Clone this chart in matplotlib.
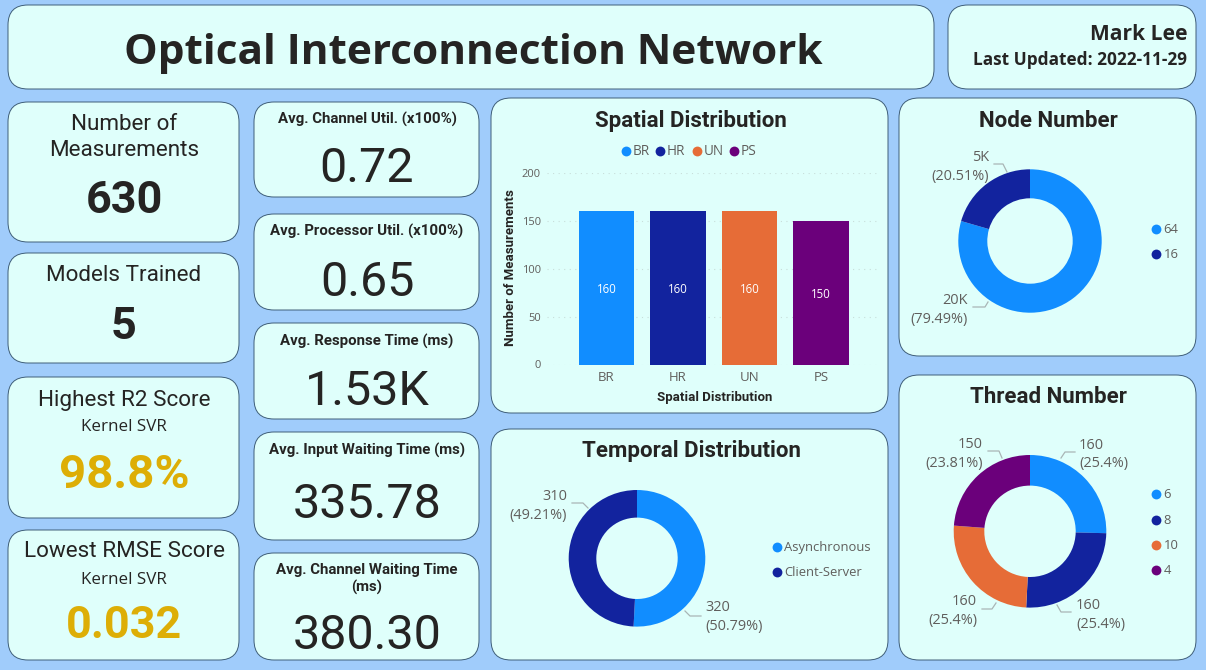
import matplotlib
matplotlib.use("Agg")
import matplotlib.pyplot as plt
from matplotlib.patches import FancyBboxPatch

W, H = 1206, 670

# Data
spatial_names = ["BR", "HR", "UN", "PS"]
spatial_counts = [160, 160, 160, 150]
temporal_names = ["Asynchronous", "Client-Server"]
temporal_counts = [320, 310]
temporal_labels = ["320\n(50.79%)", "310\n(49.21%)"]
node_names = ["64", "16"]
node_shares = [79.49, 20.51]
node_labels = ["20K\n(79.49%)", "5K\n(20.51%)"]
thread_names = ["6", "8", "10", "4"]
thread_counts = [160, 160, 160, 150]
thread_labels = ["160\n(25.4%)", "160\n(25.4%)", "160\n(25.4%)", "150\n(23.81%)"]
y_ticks = [0, 50, 100, 150, 200]

# Colours
BG = "#A0CCFB"
CARD = "#DFFFFB"
EDGE = "#3F5E78"
DARK = "#252423"
GREY = "#605E5C"
GOLD = "#DDAE06"
LEADER = "#A9B5B5"
PALETTE = ["#118DFF", "#12239E", "#E66C37", "#6B007B"]

DIN = "Roboto"
SEGOE = "Open Sans"

fig = plt.figure(figsize=(W / 100, H / 100), dpi=100, facecolor=BG)

# full-figure axes working in pixels, y going down
bg = fig.add_axes([0, 0, 1, 1])
bg.set_xlim(0, W)
bg.set_ylim(H, 0)
bg.axis("off")


def card(x0, y0, x1, y1, r=20):
    bg.add_patch(FancyBboxPatch((x0 + r, y0 + r), x1 - x0 - 2 * r, y1 - y0 - 2 * r,
                                boxstyle=f"round,pad={r},rounding_size={r}",
                                fc=CARD, ec=EDGE, lw=0.7))


def txt(x, y, s, px, color=DARK, weight="normal", family=DIN, **kw):
    # px is the font size in pixels, the small shift puts glyphs on the visual centre
    kw.setdefault("ha", "center")
    kw.setdefault("va", "center")
    if kw.get("rotation") is None:
        y = y + 0.07 * px
    bg.text(x, y, s, fontsize=px * 0.72, color=color, fontweight=weight, family=family, **kw)


def inset(x0, y0, x1, y1):
    ax = fig.add_axes([x0 / W, 1 - y1 / H, (x1 - x0) / W, (y1 - y0) / H])
    ax.patch.set_alpha(0)
    return ax


def donut(cx, cy, r, inner, values):
    ax = inset(cx - r, cy - r, cx + r, cy + r)
    ax.pie(values, colors=PALETTE[:len(values)], startangle=90, counterclock=False,
           radius=1, wedgeprops={"width": 1 - inner / r, "linewidth": 0})
    ax.set_xlim(-1, 1)
    ax.set_ylim(-1, 1)
    ax.set_aspect("auto")


def leader(points):
    bg.plot([p[0] for p in points], [p[1] for p in points], color=LEADER, lw=0.9)


def slice_label(x, y, s, ha):
    txt(x, y, s, 14.5, color=GREY, family=SEGOE, ha=ha, multialignment=ha, linespacing=1.3)


def legend(x, ys, names, colors):
    for y, name, c in zip(ys, names, colors):
        bg.scatter([x], [y], s=50, color=c, linewidths=0)
        txt(x + 7.5, y, name, 13, color=GREY, family=SEGOE, ha="left")


# Header
card(8, 5, 934, 89)
card(948, 5, 1196, 89)
txt(473, 51, "Optical Interconnection Network", 42.4, weight="bold", family=SEGOE)
txt(1187, 33, "Mark Lee", 21, weight="bold", family=SEGOE, ha="right")
txt(1187, 59, "Last Updated: 2022-11-29", 17.2, weight="bold", family=SEGOE, ha="right")

# Left column
card(8, 102, 239, 242)
txt(124, 136, "Number of\nMeasurements", 22.5, linespacing=1.27)
txt(124, 198, "630", 45, weight="bold")
card(8, 253, 239, 363)
txt(124, 274, "Models Trained", 22.5)
txt(124, 324, "5", 45, weight="bold")
card(8, 377, 239, 518)
txt(124, 399, "Highest R2 Score", 22.5)
txt(124, 426, "Kernel SVR", 17, family=SEGOE)
txt(124, 472, "98.8%", 47.5, color=GOLD, weight="bold")
card(8, 530, 239, 660)
txt(124, 550, "Lowest RMSE Score", 22.5)
txt(124, 579, "Kernel SVR", 17, family=SEGOE)
txt(124, 623, "0.032", 45, color=GOLD, weight="bold")

# Middle column
card(254, 102, 479, 197)
txt(367, 118, "Avg. Channel Util. (x100%)", 15, weight="bold")
txt(367, 166, "0.72", 48.5)
card(254, 214, 479, 310)
txt(367, 230, "Avg. Processor Util. (x100%)", 15, weight="bold")
txt(367, 280, "0.65", 48.5)
card(254, 323, 479, 419)
txt(367, 340, "Avg. Response Time (ms)", 15, weight="bold")
txt(367, 389, "1.53K", 48.5)
card(254, 432, 479, 540)
txt(367, 449, "Avg. Input Waiting Time (ms)", 15, weight="bold")
txt(367, 502, "335.78", 48.5)
card(254, 553, 479, 660)
txt(367, 578, "Avg. Channel Waiting Time\n(ms)", 15, weight="bold", linespacing=1.25)
txt(367, 633, "380.30", 48.5)

# Spatial distribution bars
card(491, 98, 888, 413)
txt(691, 119, "Spatial Distribution", 22.3, weight="bold")
for x, name, c in zip([626, 660, 697, 734], spatial_names, PALETTE):
    bg.scatter([x], [151], s=50, color=c, linewidths=0)
    txt(x + 7, 151, name, 13.5, color=GREY, family=SEGOE, ha="left")
ax = inset(547, 173, 877, 364.5)
bars = ax.bar(range(len(spatial_names)), spatial_counts, width=0.77, color=PALETTE, zorder=3)
for t in ax.bar_label(bars, label_type="center", color="white", fontsize=8.3, family=SEGOE):
    t.set_verticalalignment("center_baseline")
ax.set_xlim(-0.832, 3.783)
ax.set_ylim(0, 200)
ax.set_xticks(range(len(spatial_names)), spatial_names)
ax.set_yticks(y_ticks)
ax.tick_params(length=0)
ax.tick_params(axis="x", labelsize=9.5, labelcolor=GREY, pad=5)
ax.tick_params(axis="y", labelsize=8, labelcolor=GREY, pad=4.5)
for label in ax.get_xticklabels() + ax.get_yticklabels():
    label.set_family(SEGOE)
ax.grid(axis="y", color="#C8DEDA", linestyle=(0, (1, 4)), lw=0.8, zorder=0)
for side in ax.spines.values():
    side.set_visible(False)
txt(715, 397, "Spatial Distribution", 13.3, weight="bold")
txt(511, 268, "Number of Measurements", 13.3, weight="bold", rotation=90)

# Temporal distribution
card(491, 429, 888, 660)
txt(691, 449, "Temporal Distribution", 22.3, weight="bold")
donut(637, 558.3, 68.3, 40.7, temporal_counts)
leader([(572, 503), (583, 503), (588, 508)])
leader([(701, 616), (690, 616), (685, 611)])
slice_label(705, 616, temporal_labels[0], "left")
slice_label(567, 505, temporal_labels[1], "right")
legend(777, [547, 572], temporal_names, PALETTE)

# Node number
card(899, 98, 1196, 356)
txt(1048, 119, "Node Number", 22.3, weight="bold")
donut(1030, 241, 71.7, 42.7, node_shares)
leader([(994, 164), (1003, 164), (1007, 172)])
leader([(973, 307), (985, 307), (988, 302)])
slice_label(968, 309, node_labels[0], "right")
slice_label(989, 166, node_labels[1], "right")
legend(1156, [229, 254], node_names, PALETTE)

# Thread number
card(899, 375, 1196, 660)
txt(1048, 395, "Thread Number", 22.3, weight="bold")
donut(1030, 531.3, 76.3, 45.7, thread_counts)
leader([(1075, 452), (1065, 452), (1061, 458)])
leader([(1071, 612), (1061, 612), (1057, 605)])
leader([(982, 609), (992, 609), (996, 603)])
leader([(988, 451), (999, 451), (1002, 458)])
slice_label(1079, 453.5, thread_labels[0], "left")
slice_label(1076, 614, thread_labels[1], "left")
slice_label(977, 610, thread_labels[2], "right")
slice_label(983, 453, thread_labels[3], "right")
legend(1156, [494, 520, 545, 570], thread_names, PALETTE)

fig.savefig("out.png", dpi=100, facecolor=BG)
